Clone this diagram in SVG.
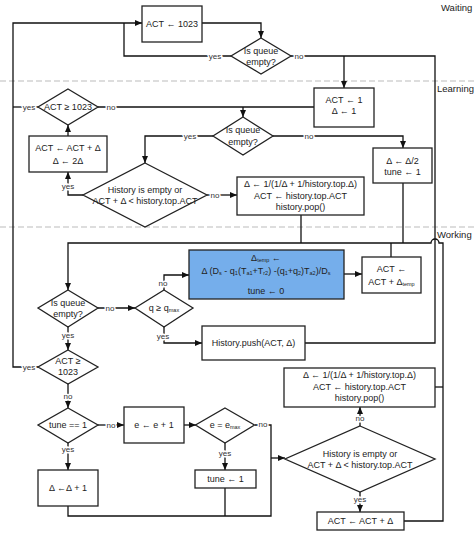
<svg xmlns="http://www.w3.org/2000/svg" width="474" height="537" viewBox="0 0 474 537">
<defs>
<marker id="ah" markerUnits="userSpaceOnUse" markerWidth="7" markerHeight="6" refX="7" refY="3" orient="auto">
<path d="M0,0 L7,3 L0,6 z" fill="#111"/>
</marker>
<style>
.n{fill:#fff;stroke:#222;stroke-width:1.3}
.b{fill:#75aeeb;stroke:#222;stroke-width:1.3}
.t{font-family:"Liberation Sans",Arial,sans-serif;font-size:9px;fill:#222;text-anchor:middle;dominant-baseline:central}
.s{font-size:5.5px}
.l{font-family:"Liberation Sans",Arial,sans-serif;font-size:8px;fill:#333;text-anchor:middle;dominant-baseline:central;paint-order:stroke;stroke:#fff;stroke-width:3px}
.g{font-family:"Liberation Sans",Arial,sans-serif;font-size:9.5px;fill:#222}
.c{fill:none;stroke:#111;stroke-width:1.3}
.a{marker-end:url(#ah)}
.d{stroke:#bbb;stroke-width:1;stroke-dasharray:6 3}
</style>
</defs>
<rect width="474" height="537" fill="#fff"/>
<g id="stages">
<line class="d" x1="0" y1="81" x2="474" y2="81"/>
<line class="d" x1="0" y1="227" x2="474" y2="227"/>
<text class="g" x="441" y="11">Waiting</text>
<text class="g" x="437" y="92">Learning</text>
<text class="g" x="437" y="238">Working</text>
</g>
<g id="connectors">
<path class="c a" d="M38,367 H13 V23 H142"/>
<path class="c" d="M38,107 H13"/>
<path class="c" d="M231,56 H124 V23"/>
<path class="c a" d="M202,23 H261 V38"/>
<path class="c" d="M291,56 H435 V343 H305"/>
<path class="c a" d="M344,56 V88"/>
<path class="c" d="M98,107 H314"/>
<path class="c a" d="M243,107 V117"/>
<path class="c a" d="M68,136 V125"/>
<path class="c a" d="M83,195 H68 V172"/>
<path class="c a" d="M213,136 H145 V163"/>
<path class="c a" d="M273,136 H403 V148"/>
<path class="c a" d="M207,195 H237"/>
<path class="c" d="M301,215 V243"/>
<path class="c" d="M403,183 V243"/>
<path class="c" d="M391,257 V243"/>
<path class="c a" d="M404,521 H443 V243 H439 A4,4 0 0 0 431,243 H68 V290"/>
<path class="c" d="M435,387 H443"/>
<path class="c a" d="M98,308 H135"/>
<path class="c a" d="M164,290 V275 H189"/>
<path class="c a" d="M344,274 H362"/>
<path class="c a" d="M164,327 V343 H202"/>
<path class="c a" d="M68,327 V350"/>
<path class="c a" d="M68,384 V408"/>
<path class="c a" d="M98,425 H124"/>
<path class="c a" d="M68,443 V470"/>
<path class="c a" d="M184,425 H196"/>
<path class="c a" d="M225,443 V470"/>
<path class="c" d="M68,506 V516 H271 V425 H255"/>
<path class="c" d="M225,488 V516"/>
<path class="c a" d="M271,458 H285"/>
<path class="c a" d="M360,426 V407"/>
<path class="c a" d="M360,492 V512"/>
</g>
<g id="labels">
<text class="l" x="215" y="56">yes</text>
<text class="l" x="299" y="56">no</text>
<text class="l" x="29" y="107">yes</text>
<text class="l" x="111" y="107">no</text>
<text class="l" x="190" y="136">yes</text>
<text class="l" x="309" y="136">no</text>
<text class="l" x="68" y="186">yes</text>
<text class="l" x="215" y="195">no</text>
<text class="l" x="110" y="308">no</text>
<text class="l" x="163" y="283">no</text>
<text class="l" x="163" y="336">yes</text>
<text class="l" x="68" y="335">yes</text>
<text class="l" x="29" y="367">yes</text>
<text class="l" x="68" y="396">no</text>
<text class="l" x="111" y="425">no</text>
<text class="l" x="68" y="449">yes</text>
<text class="l" x="225" y="453">yes</text>
<text class="l" x="263" y="424">no</text>
<text class="l" x="360" y="418">no</text>
<text class="l" x="360" y="499">yes</text>
</g>
<g id="act1023">
<rect class="n" x="142" y="6" width="60" height="36"/>
<text class="t" x="172" y="24">ACT ← 1023</text>
</g>
<g id="queue1">
<polygon class="n" points="261,38 291,56 261,74 231,56"/>
<text class="t" x="261" y="51" font-size="8.5">Is queue</text>
<text class="t" x="261" y="62" font-size="8.5">empty?</text>
</g>
<g id="act1">
<rect class="n" x="314" y="88" width="60" height="39"/>
<text class="t" x="344" y="100">ACT ← 1</text>
<text class="t" x="344" y="111">Δ ← 1</text>
</g>
<g id="actge1">
<polygon class="n" points="68,89 98,107 68,125 38,107"/>
<text class="t" x="68" y="107" font-size="8">ACT ≥ 1023</text>
</g>
<g id="queue2">
<polygon class="n" points="243,117 273,136 243,155 213,136"/>
<text class="t" x="243" y="130" font-size="8.5">Is queue</text>
<text class="t" x="243" y="142" font-size="8.5">empty?</text>
</g>
<g id="actplus1">
<rect class="n" x="29" y="136" width="78" height="36"/>
<text class="t" x="68" y="148">ACT ← ACT + Δ</text>
<text class="t" x="68" y="161">Δ ← 2Δ</text>
</g>
<g id="halve">
<rect class="n" x="373" y="148" width="59" height="35"/>
<text class="t" x="402.5" y="161">Δ ← Δ/2</text>
<text class="t" x="402.5" y="172">tune ← 1</text>
</g>
<g id="hist1">
<polygon class="n" points="145,163 207,195 145,227 83,195"/>
<text class="t" x="145" y="190" font-size="8">History is empty or</text>
<text class="t" x="145" y="201" font-size="8">ACT + Δ &lt; history.top.ACT</text>
</g>
<g id="pop1">
<rect class="n" x="237" y="177" width="127" height="38"/>
<text class="t" x="300.5" y="184">Δ ←  1/(1/Δ + 1/history.top.Δ)</text>
<text class="t" x="300.5" y="195.5">ACT ←  history.top.ACT</text>
<text class="t" x="300.5" y="207">history.pop()</text>
</g>
<g id="queue3">
<polygon class="n" points="68,290 98,308 68,327 38,308"/>
<text class="t" x="68" y="303" font-size="8.5">Is queue</text>
<text class="t" x="68" y="314" font-size="8.5">empty?</text>
</g>
<g id="qmax">
<polygon class="n" points="164,290 193,308 164,327 135,308"/>
<text class="t" x="164" y="308" font-size="8.5">q ≥  q<tspan class="s" dy="1.5">max</tspan></text>
</g>
<g id="delta">
<rect class="b" x="189" y="250" width="155" height="49"/>
<text class="t" x="266" y="258" font-size="8">Δ<tspan class="s" dy="1.5">temp</tspan><tspan dy="-1.5"> ←</tspan></text>
<text class="t" x="266" y="271" font-size="8">Δ (D<tspan class="s" dy="1.5">s</tspan><tspan dy="-1.5"> - q</tspan><tspan class="s" dy="1.5">1</tspan><tspan dy="-1.5">(T</tspan><tspan class="s" dy="1.5">a1</tspan><tspan dy="-1.5">+T</tspan><tspan class="s" dy="1.5">r2</tspan><tspan dy="-1.5">) -(q</tspan><tspan class="s" dy="1.5">1</tspan><tspan dy="-1.5">+q</tspan><tspan class="s" dy="1.5">2</tspan><tspan dy="-1.5">)T</tspan><tspan class="s" dy="1.5">a2</tspan><tspan dy="-1.5">)/D</tspan><tspan class="s" dy="1.5">s</tspan></text>
<text class="t" x="266" y="291" font-size="8">tune ← 0</text>
</g>
<g id="acttemp">
<rect class="n" x="362" y="257" width="59" height="36"/>
<text class="t" x="391.5" y="269" font-size="8">ACT ←</text>
<text class="t" x="391.5" y="282" font-size="8">ACT + Δ<tspan class="s" dy="1.5">temp</tspan></text>
</g>
<g id="push">
<rect class="n" x="202" y="326" width="103" height="34"/>
<text class="t" x="253.5" y="343" font-size="8.5">History.push(ACT, Δ)</text>
</g>
<g id="actge2">
<polygon class="n" points="68,350 98,367 68,384 38,367"/>
<text class="t" x="68" y="361" font-size="8.5">ACT ≥</text>
<text class="t" x="68" y="372" font-size="8.5">1023</text>
</g>
<g id="tune1">
<polygon class="n" points="68,408 98,425 68,443 38,425"/>
<text class="t" x="68" y="425" font-size="8.5">tune == 1</text>
</g>
<g id="einc">
<rect class="n" x="124" y="407" width="60" height="36"/>
<text class="t" x="154" y="425">e ← e + 1</text>
</g>
<g id="emax">
<polygon class="n" points="225,408 254.5,425 225,443 195.5,425"/>
<text class="t" x="225" y="425" font-size="8">e = e<tspan class="s" dy="1.5">max</tspan></text>
</g>
<g id="dinc">
<rect class="n" x="38" y="470" width="60" height="36"/>
<text class="t" x="68" y="488">Δ ←Δ + 1</text>
</g>
<g id="tuneset">
<rect class="n" x="195" y="470" width="61" height="18"/>
<text class="t" x="225.5" y="479">tune ← 1</text>
</g>
<g id="pop2">
<rect class="n" x="284" y="368" width="151" height="39"/>
<text class="t" x="359.5" y="375">Δ ←  1/(1/Δ + 1/history.top.Δ)</text>
<text class="t" x="359.5" y="386.5">ACT ←  history.top.ACT</text>
<text class="t" x="359.5" y="398">history.pop()</text>
</g>
<g id="hist2">
<polygon class="n" points="360,426 435,459 360,492 285,459"/>
<text class="t" x="360" y="454" font-size="8.5">History is empty or</text>
<text class="t" x="360" y="465" font-size="8.5">ACT + Δ &lt; history.top.ACT</text>
</g>
<g id="actplus2">
<rect class="n" x="317" y="512" width="87" height="18"/>
<text class="t" x="360.5" y="521">ACT ← ACT + Δ</text>
</g>
</svg>
